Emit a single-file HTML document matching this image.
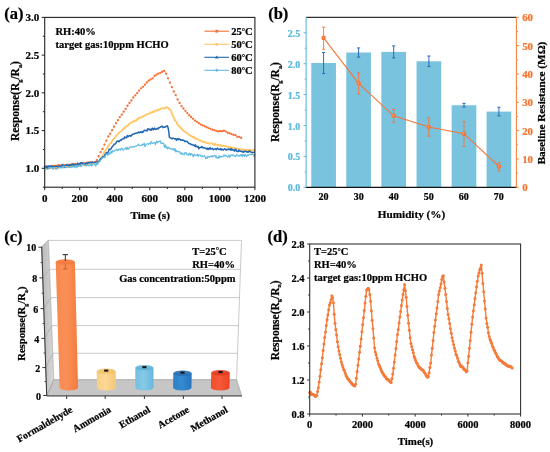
<!DOCTYPE html>
<html><head><meta charset="utf-8"><style>
html,body{margin:0;padding:0;background:#fff;}
svg{display:block;will-change:transform;}
svg text{font-family:"Liberation Serif",serif;font-weight:bold;}
</style></head><body>
<svg width="550" height="452" viewBox="0 0 550 452">
<rect width="550" height="452" fill="#fff"/>
<polyline points="44.7,166.61 46.63,166.12 48.55,167.03 50.48,166.39 52.41,166.01 54.33,165.98 56.26,165.95 58.19,165.14 60.11,165.45 62.04,165.67 63.97,164.94 65.9,165.35 67.82,164.54 69.75,164.76 71.68,164.42 73.6,163.97 75.53,164.02 77.46,164.16 79.38,164.02 81.31,163.17 83.24,163.07 85.16,163.22 87.09,162.63 89.02,162.51 90.94,162.28 92.87,162.73 94.8,162.08 96.72,160.22 98.65,156.24 100.58,152.19 102.5,149.01 104.43,144.59 106.36,140.7 108.29,136.41 110.21,133.77 112.14,130.19 114.07,126.67 115.99,123.04 117.92,120.2 119.85,117.06 121.77,114.71 123.7,111.68 125.63,108.89 127.55,105.75 129.48,102.96 131.41,100.51 133.33,97.51 135.26,95.29 137.19,93.1 139.11,90.53 141.04,88.34 142.97,86.81 144.9,84.64 146.82,82.52 148.75,80.71 150.68,79.39 152.6,78.28 154.53,76.01 156.46,74.7 158.38,73.68 160.31,72.8 162.24,71.74 164.16,70.96 166.09,73.72 168.02,78.28 169.94,82.69 171.87,87.1 173.8,91.38 175.72,95.12 177.65,99.51 179.58,102.9 181.51,106.21 183.43,108.5 185.36,110.86 187.29,113.11 189.21,115.25 191.14,116.99 193.07,118.81 194.99,120.68 196.92,121.86 198.85,123.13 200.77,124.54 202.7,125.37 204.63,126.18 206.55,127.13 208.48,128.06 210.41,128.86 212.33,129.64 214.26,130.17 216.19,130.82 218.12,131.42 220.04,131.14 221.97,131.16 223.9,130.74 225.82,131.61 227.75,132.76 229.68,133.42 231.6,134.03 233.53,134.91 235.46,135.13 237.38,136.86 239.31,136.93 241.24,137.91" fill="none" stroke="#F47037" stroke-width="0.4" stroke-linejoin="round" opacity="0.5"/>
<circle cx="44.7" cy="166.61" r="1.15" fill="#F47037"/>
<circle cx="46.63" cy="166.12" r="1.15" fill="#F47037"/>
<circle cx="48.55" cy="167.03" r="1.15" fill="#F47037"/>
<circle cx="50.48" cy="166.39" r="1.15" fill="#F47037"/>
<circle cx="52.41" cy="166.01" r="1.15" fill="#F47037"/>
<circle cx="54.33" cy="165.98" r="1.15" fill="#F47037"/>
<circle cx="56.26" cy="165.95" r="1.15" fill="#F47037"/>
<circle cx="58.19" cy="165.14" r="1.15" fill="#F47037"/>
<circle cx="60.11" cy="165.45" r="1.15" fill="#F47037"/>
<circle cx="62.04" cy="165.67" r="1.15" fill="#F47037"/>
<circle cx="63.97" cy="164.94" r="1.15" fill="#F47037"/>
<circle cx="65.9" cy="165.35" r="1.15" fill="#F47037"/>
<circle cx="67.82" cy="164.54" r="1.15" fill="#F47037"/>
<circle cx="69.75" cy="164.76" r="1.15" fill="#F47037"/>
<circle cx="71.68" cy="164.42" r="1.15" fill="#F47037"/>
<circle cx="73.6" cy="163.97" r="1.15" fill="#F47037"/>
<circle cx="75.53" cy="164.02" r="1.15" fill="#F47037"/>
<circle cx="77.46" cy="164.16" r="1.15" fill="#F47037"/>
<circle cx="79.38" cy="164.02" r="1.15" fill="#F47037"/>
<circle cx="81.31" cy="163.17" r="1.15" fill="#F47037"/>
<circle cx="83.24" cy="163.07" r="1.15" fill="#F47037"/>
<circle cx="85.16" cy="163.22" r="1.15" fill="#F47037"/>
<circle cx="87.09" cy="162.63" r="1.15" fill="#F47037"/>
<circle cx="89.02" cy="162.51" r="1.15" fill="#F47037"/>
<circle cx="90.94" cy="162.28" r="1.15" fill="#F47037"/>
<circle cx="92.87" cy="162.73" r="1.15" fill="#F47037"/>
<circle cx="94.8" cy="162.08" r="1.15" fill="#F47037"/>
<circle cx="96.72" cy="160.22" r="1.15" fill="#F47037"/>
<circle cx="98.65" cy="156.24" r="1.15" fill="#F47037"/>
<circle cx="100.58" cy="152.19" r="1.15" fill="#F47037"/>
<circle cx="102.5" cy="149.01" r="1.15" fill="#F47037"/>
<circle cx="104.43" cy="144.59" r="1.15" fill="#F47037"/>
<circle cx="106.36" cy="140.7" r="1.15" fill="#F47037"/>
<circle cx="108.29" cy="136.41" r="1.15" fill="#F47037"/>
<circle cx="110.21" cy="133.77" r="1.15" fill="#F47037"/>
<circle cx="112.14" cy="130.19" r="1.15" fill="#F47037"/>
<circle cx="114.07" cy="126.67" r="1.15" fill="#F47037"/>
<circle cx="115.99" cy="123.04" r="1.15" fill="#F47037"/>
<circle cx="117.92" cy="120.2" r="1.15" fill="#F47037"/>
<circle cx="119.85" cy="117.06" r="1.15" fill="#F47037"/>
<circle cx="121.77" cy="114.71" r="1.15" fill="#F47037"/>
<circle cx="123.7" cy="111.68" r="1.15" fill="#F47037"/>
<circle cx="125.63" cy="108.89" r="1.15" fill="#F47037"/>
<circle cx="127.55" cy="105.75" r="1.15" fill="#F47037"/>
<circle cx="129.48" cy="102.96" r="1.15" fill="#F47037"/>
<circle cx="131.41" cy="100.51" r="1.15" fill="#F47037"/>
<circle cx="133.33" cy="97.51" r="1.15" fill="#F47037"/>
<circle cx="135.26" cy="95.29" r="1.15" fill="#F47037"/>
<circle cx="137.19" cy="93.1" r="1.15" fill="#F47037"/>
<circle cx="139.11" cy="90.53" r="1.15" fill="#F47037"/>
<circle cx="141.04" cy="88.34" r="1.15" fill="#F47037"/>
<circle cx="142.97" cy="86.81" r="1.15" fill="#F47037"/>
<circle cx="144.9" cy="84.64" r="1.15" fill="#F47037"/>
<circle cx="146.82" cy="82.52" r="1.15" fill="#F47037"/>
<circle cx="148.75" cy="80.71" r="1.15" fill="#F47037"/>
<circle cx="150.68" cy="79.39" r="1.15" fill="#F47037"/>
<circle cx="152.6" cy="78.28" r="1.15" fill="#F47037"/>
<circle cx="154.53" cy="76.01" r="1.15" fill="#F47037"/>
<circle cx="156.46" cy="74.7" r="1.15" fill="#F47037"/>
<circle cx="158.38" cy="73.68" r="1.15" fill="#F47037"/>
<circle cx="160.31" cy="72.8" r="1.15" fill="#F47037"/>
<circle cx="162.24" cy="71.74" r="1.15" fill="#F47037"/>
<circle cx="164.16" cy="70.96" r="1.15" fill="#F47037"/>
<circle cx="166.09" cy="73.72" r="1.15" fill="#F47037"/>
<circle cx="168.02" cy="78.28" r="1.15" fill="#F47037"/>
<circle cx="169.94" cy="82.69" r="1.15" fill="#F47037"/>
<circle cx="171.87" cy="87.1" r="1.15" fill="#F47037"/>
<circle cx="173.8" cy="91.38" r="1.15" fill="#F47037"/>
<circle cx="175.72" cy="95.12" r="1.15" fill="#F47037"/>
<circle cx="177.65" cy="99.51" r="1.15" fill="#F47037"/>
<circle cx="179.58" cy="102.9" r="1.15" fill="#F47037"/>
<circle cx="181.51" cy="106.21" r="1.15" fill="#F47037"/>
<circle cx="183.43" cy="108.5" r="1.15" fill="#F47037"/>
<circle cx="185.36" cy="110.86" r="1.15" fill="#F47037"/>
<circle cx="187.29" cy="113.11" r="1.15" fill="#F47037"/>
<circle cx="189.21" cy="115.25" r="1.15" fill="#F47037"/>
<circle cx="191.14" cy="116.99" r="1.15" fill="#F47037"/>
<circle cx="193.07" cy="118.81" r="1.15" fill="#F47037"/>
<circle cx="194.99" cy="120.68" r="1.15" fill="#F47037"/>
<circle cx="196.92" cy="121.86" r="1.15" fill="#F47037"/>
<circle cx="198.85" cy="123.13" r="1.15" fill="#F47037"/>
<circle cx="200.77" cy="124.54" r="1.15" fill="#F47037"/>
<circle cx="202.7" cy="125.37" r="1.15" fill="#F47037"/>
<circle cx="204.63" cy="126.18" r="1.15" fill="#F47037"/>
<circle cx="206.55" cy="127.13" r="1.15" fill="#F47037"/>
<circle cx="208.48" cy="128.06" r="1.15" fill="#F47037"/>
<circle cx="210.41" cy="128.86" r="1.15" fill="#F47037"/>
<circle cx="212.33" cy="129.64" r="1.15" fill="#F47037"/>
<circle cx="214.26" cy="130.17" r="1.15" fill="#F47037"/>
<circle cx="216.19" cy="130.82" r="1.15" fill="#F47037"/>
<circle cx="218.12" cy="131.42" r="1.15" fill="#F47037"/>
<circle cx="220.04" cy="131.14" r="1.15" fill="#F47037"/>
<circle cx="221.97" cy="131.16" r="1.15" fill="#F47037"/>
<circle cx="223.9" cy="130.74" r="1.15" fill="#F47037"/>
<circle cx="225.82" cy="131.61" r="1.15" fill="#F47037"/>
<circle cx="227.75" cy="132.76" r="1.15" fill="#F47037"/>
<circle cx="229.68" cy="133.42" r="1.15" fill="#F47037"/>
<circle cx="231.6" cy="134.03" r="1.15" fill="#F47037"/>
<circle cx="233.53" cy="134.91" r="1.15" fill="#F47037"/>
<circle cx="235.46" cy="135.13" r="1.15" fill="#F47037"/>
<circle cx="237.38" cy="136.86" r="1.15" fill="#F47037"/>
<circle cx="239.31" cy="136.93" r="1.15" fill="#F47037"/>
<circle cx="241.24" cy="137.91" r="1.15" fill="#F47037"/>
<polyline points="44.7,168.51 45.4,167.98 46.1,168.77 46.8,168.49 47.5,167.59 48.2,168.94 48.9,168.47 49.6,168.2 50.31,168.15 51.01,168.01 51.71,168.15 52.41,167.9 53.11,167.94 53.81,167.66 54.51,168.4 55.21,168.04 55.91,167.71 56.61,167.96 57.31,167.91 58.01,167.34 58.71,167.67 59.41,167.22 60.11,167.12 60.82,167.2 61.52,167.08 62.22,167.2 62.92,167.53 63.62,167.06 64.32,166.85 65.02,167.09 65.72,166.9 66.42,166.58 67.12,167.01 67.82,166.49 68.52,166.06 69.22,166.73 69.92,166.46 70.62,166.49 71.33,165.91 72.03,166.2 72.73,165.94 73.43,166.34 74.13,166.06 74.83,165.97 75.53,166.43 76.23,165.38 76.93,165.46 77.63,166.18 78.33,165.34 79.03,165.53 79.73,165.27 80.43,165.22 81.13,165.7 81.84,165.23 82.54,164.64 83.24,165.18 83.94,165.23 84.64,165.25 85.34,165.13 86.04,164.58 86.74,164.09 87.44,164.39 88.14,164.37 88.84,163.69 89.54,164.44 90.24,164.4 90.94,163.96 91.64,163.87 92.35,164.27 93.05,164.23 93.75,163.71 94.45,163.64 95.15,164.03 95.85,163.62 96.55,163.64 97.25,163.26 97.95,162.68 98.65,161.91 99.35,161.24 100.05,159.61 100.75,158.3 101.45,157.62 102.15,156.05 102.86,155.32 103.56,153.87 104.26,152.46 104.96,151.02 105.66,150.38 106.36,149.08 107.06,147.79 107.76,147.1 108.46,145.52 109.16,144.84 109.86,143.65 110.56,143.22 111.26,142.59 111.96,141.1 112.66,140.15 113.37,139.52 114.07,138.2 114.77,137.67 115.47,136.89 116.17,135.68 116.87,135.42 117.57,134.46 118.27,133.64 118.97,132.76 119.67,132.44 120.37,131.67 121.07,131.34 121.77,130.43 122.47,129.4 123.17,129.49 123.88,127.94 124.58,128.23 125.28,127.41 125.98,126.74 126.68,125.86 127.38,125.92 128.08,125.55 128.78,124.27 129.48,123.79 130.18,123.42 130.88,122.39 131.58,122.7 132.28,122.26 132.98,121.64 133.68,121.39 134.39,120.57 135.09,121.03 135.79,120.35 136.49,120.85 137.19,119.15 137.89,119.08 138.59,118.27 139.29,117.48 139.99,117.8 140.69,117.55 141.39,117.3 142.09,117.08 142.79,116.69 143.49,115.98 144.19,115.83 144.9,115.5 145.6,115.25 146.3,114.59 147,114.39 147.7,114.26 148.4,113.69 149.1,113.61 149.8,113.59 150.5,112.49 151.2,112.51 151.9,112.66 152.6,111.77 153.3,111.71 154,112.01 154.7,110.77 155.41,110.88 156.11,110.43 156.81,110.37 157.51,110.19 158.21,110.34 158.91,109.3 159.61,109.3 160.31,109.12 161.01,108.65 161.71,108.52 162.41,108.2 163.11,108.38 163.81,108.13 164.51,108.63 165.21,107.97 165.92,107.49 166.62,107.15 167.32,107.52 168.02,108.1 168.72,108.23 169.42,109.46 170.12,109.79 170.82,110.15 171.52,112.37 172.22,113.74 172.92,116.04 173.62,117.49 174.32,119.3 175.02,120.46 175.72,121.21 176.43,121.87 177.13,123.85 177.83,124.87 178.53,125.42 179.23,126.59 179.93,126.82 180.63,127.5 181.33,128.46 182.03,128.91 182.73,130.24 183.43,130.25 184.13,131.51 184.83,131.78 185.53,132.26 186.23,132.74 186.94,132.88 187.64,133.64 188.34,134.31 189.04,134.55 189.74,134.76 190.44,135.76 191.14,136.13 191.84,136.21 192.54,136.85 193.24,137.66 193.94,136.86 194.64,137.29 195.34,138.9 196.04,138.65 196.74,138.86 197.45,139.03 198.15,139.47 198.85,140.09 199.55,140.67 200.25,140.63 200.95,140.57 201.65,141.42 202.35,141.62 203.05,141.53 203.75,142.32 204.45,142.03 205.15,142.3 205.85,142.25 206.55,142.81 207.25,143.08 207.96,143.14 208.66,143.26 209.36,143.63 210.06,143.54 210.76,143.44 211.46,143.42 212.16,143.38 212.86,144.25 213.56,144.26 214.26,145 214.96,143.79 215.66,144.7 216.36,144.61 217.06,144.56 217.76,145.24 218.47,144.81 219.17,145.07 219.87,145.73 220.57,145.24 221.27,145.12 221.97,146.19 222.67,145.53 223.37,145.87 224.07,145.94 224.77,146.1 225.47,145.99 226.17,146.6 226.87,146.42 227.57,146.96 228.27,146.77 228.98,147.38 229.68,147.32 230.38,146.92 231.08,147.45 231.78,147.79 232.48,148.24 233.18,148.25 233.88,148.07 234.58,147.96 235.28,148.23 235.98,148.32 236.68,148.6 237.38,148.3 238.08,148.94 238.78,149.1 239.49,148.78 240.19,149.15 240.89,149.36 241.59,149.57 242.29,149.59 242.99,149.44 243.69,149.63 244.39,150.16 245.09,149.72 245.79,149.86 246.49,150.27 247.19,149.79 247.89,150.16 248.59,150.24 249.29,149.95 250,149.85 250.7,150.51 251.4,150.23 252.1,150.68 252.8,149.78 253.5,150.68 254.2,150.23 254.9,150.84" fill="none" stroke="#FFC766" stroke-width="1.8" stroke-linejoin="round" />
<polyline points="44.7,166.76 45.4,167.66 46.1,167.71 46.8,166.19 47.5,168.37 48.2,166.96 48.9,165.72 49.6,167.68 50.31,166.65 51.01,165.86 51.71,167.01 52.41,166.54 53.11,166.28 53.81,167.31 54.51,166.75 55.21,166.46 55.91,166.08 56.61,166.54 57.31,166.58 58.01,167.01 58.71,166.55 59.41,165.74 60.11,166.16 60.82,166.67 61.52,166.6 62.22,164.43 62.92,165.29 63.62,165.53 64.32,167.42 65.02,165.42 65.72,165.44 66.42,164.66 67.12,165.36 67.82,165.59 68.52,165.18 69.22,166.61 69.92,164.75 70.62,165.12 71.33,165.66 72.03,164.35 72.73,163.96 73.43,165.81 74.13,165.28 74.83,164.61 75.53,164.58 76.23,164.84 76.93,165.1 77.63,163.14 78.33,163.71 79.03,164.96 79.73,164.96 80.43,163.03 81.13,163.37 81.84,162.78 82.54,163.3 83.24,164.22 83.94,163.45 84.64,164.82 85.34,163.88 86.04,163.37 86.74,162.93 87.44,163.59 88.14,163.14 88.84,162.7 89.54,162.66 90.24,162.41 90.94,162.58 91.64,162.81 92.35,162.04 93.05,162.4 93.75,162.84 94.45,162.63 95.15,162.16 95.85,162.13 96.55,161.88 97.25,161.89 97.95,161.4 98.65,161.21 99.35,161.51 100.05,159.73 100.75,158.58 101.45,158.18 102.15,157.79 102.86,156.64 103.56,156.72 104.26,156.51 104.96,154.56 105.66,154.39 106.36,152.62 107.06,152.95 107.76,153.11 108.46,151.4 109.16,149.11 109.86,149.59 110.56,149.48 111.26,148.41 111.96,146.92 112.66,146.23 113.37,145.72 114.07,144.22 114.77,143.99 115.47,143.72 116.17,142.64 116.87,141.3 117.57,141.27 118.27,140.9 118.97,141.83 119.67,140.92 120.37,140.04 121.07,140.32 121.77,139.15 122.47,139.09 123.17,138.56 123.88,138.89 124.58,136.88 125.28,137.33 125.98,137.86 126.68,137.33 127.38,135.47 128.08,136.9 128.78,135.87 129.48,135.52 130.18,135.82 130.88,136.24 131.58,135.13 132.28,134.74 132.98,133.99 133.68,133.91 134.39,134.08 135.09,133.29 135.79,133.2 136.49,133.11 137.19,132.91 137.89,132.81 138.59,131.96 139.29,132.72 139.99,132.29 140.69,131.73 141.39,132.44 142.09,131.64 142.79,132.41 143.49,131.43 144.19,130.5 144.9,130.32 145.6,130.52 146.3,130.45 147,130.99 147.7,128.85 148.4,129.47 149.1,128.94 149.8,129.96 150.5,129.37 151.2,130.23 151.9,128.54 152.6,128.32 153.3,129.9 154,128.66 154.7,128.12 155.41,129.44 156.11,129.35 156.81,128.77 157.51,128.38 158.21,128.72 158.91,127.73 159.61,127.47 160.31,127.1 161.01,126.92 161.71,126.29 162.41,126.35 163.11,127.7 163.81,127.07 164.51,127.26 165.21,127.13 165.92,126.38 166.62,126.19 167.32,125.75 168.02,127.51 168.72,131.07 169.42,137.38 170.12,137.74 170.82,138.06 171.52,138.17 172.22,138.84 172.92,138.15 173.62,138.36 174.32,138.63 175.02,138.98 175.72,138.68 176.43,140.22 177.13,139.17 177.83,138.55 178.53,139.61 179.23,138.84 179.93,139.12 180.63,140.3 181.33,139.87 182.03,140.17 182.73,139.96 183.43,140.12 184.13,140.77 184.83,141.51 185.53,141.34 186.23,141.55 186.94,141.32 187.64,141.9 188.34,142.89 189.04,143.65 189.74,143.44 190.44,144.04 191.14,144.64 191.84,144.41 192.54,145.02 193.24,145.04 193.94,145.16 194.64,146.1 195.34,144.83 196.04,146.8 196.74,146.2 197.45,146.93 198.15,146.47 198.85,148.72 199.55,147.88 200.25,147.41 200.95,147.34 201.65,146.43 202.35,147.79 203.05,147.35 203.75,147.8 204.45,147.83 205.15,148.23 205.85,148.73 206.55,148.37 207.25,149.38 207.96,148.06 208.66,149.43 209.36,148.72 210.06,147.64 210.76,149.1 211.46,149 212.16,148.36 212.86,149.09 213.56,149.64 214.26,149.04 214.96,148.88 215.66,148.83 216.36,149.75 217.06,148.25 217.76,148.33 218.47,149.35 219.17,149.23 219.87,149.67 220.57,148.59 221.27,149.89 221.97,149.09 222.67,149.81 223.37,149.96 224.07,149.14 224.77,148.79 225.47,149.63 226.17,150.06 226.87,149.18 227.57,149.73 228.27,149.54 228.98,148.83 229.68,149.1 230.38,150.12 231.08,148.45 231.78,149.86 232.48,149.41 233.18,150.35 233.88,150.08 234.58,151.21 235.28,149.17 235.98,149.52 236.68,151.17 237.38,151.45 238.08,151.61 238.78,150.02 239.49,151.1 240.19,150.96 240.89,151.2 241.59,151.18 242.29,151.86 242.99,151.29 243.69,152.27 244.39,151.5 245.09,151.33 245.79,151.29 246.49,151.77 247.19,152.23 247.89,151.64 248.59,152.09 249.29,150.91 250,151.45 250.7,152.03 251.4,152.31 252.1,152.5 252.8,152.7 253.5,152.4 254.2,152.07 254.9,151.99" fill="none" stroke="#2167B1" stroke-width="1.5" stroke-linejoin="round" />
<polyline points="44.7,168.89 45.4,168.2 46.1,168.76 46.8,168.79 47.5,169.25 48.2,168.6 48.9,167.45 49.6,167.97 50.31,167.41 51.01,168.02 51.71,167.85 52.41,167.97 53.11,169.46 53.81,167.31 54.51,167.55 55.21,167.51 55.91,169.28 56.61,169.27 57.31,168.51 58.01,168.11 58.71,167.42 59.41,167.66 60.11,167.14 60.82,168.05 61.52,167.21 62.22,167.09 62.92,167.92 63.62,165.89 64.32,166.81 65.02,166.23 65.72,167.68 66.42,167.73 67.12,167.35 67.82,167.11 68.52,166.44 69.22,166.71 69.92,167.24 70.62,167.61 71.33,167.18 72.03,165.66 72.73,167.26 73.43,166.31 74.13,166.07 74.83,167.58 75.53,166.23 76.23,165.1 76.93,167.78 77.63,166.29 78.33,166.03 79.03,166.54 79.73,165.37 80.43,165.76 81.13,166.84 81.84,164.86 82.54,164.91 83.24,164.6 83.94,164.11 84.64,164.92 85.34,165.04 86.04,166.14 86.74,164.47 87.44,165.41 88.14,165.19 88.84,165.79 89.54,165.46 90.24,165.02 90.94,163.43 91.64,166.1 92.35,165.55 93.05,164.06 93.75,162.98 94.45,163.61 95.15,165.59 95.85,166.02 96.55,163.56 97.25,164.38 97.95,164 98.65,161.55 99.35,160.75 100.05,160.88 100.75,160.15 101.45,159.35 102.15,157.73 102.86,157.89 103.56,157.32 104.26,156.65 104.96,157.75 105.66,154.74 106.36,154.36 107.06,154.06 107.76,155.49 108.46,153.82 109.16,152.33 109.86,154.27 110.56,152.65 111.26,151.39 111.96,153.05 112.66,150.36 113.37,150.98 114.07,151.29 114.77,150.63 115.47,150.1 116.17,150.27 116.87,149.16 117.57,150.51 118.27,150.19 118.97,148.87 119.67,149.59 120.37,150.23 121.07,148.6 121.77,148.06 122.47,149.53 123.17,150.2 123.88,149.05 124.58,148.95 125.28,148.96 125.98,147.43 126.68,149.34 127.38,147.33 128.08,149.31 128.78,148.75 129.48,147.4 130.18,146.82 130.88,146.87 131.58,147.12 132.28,147.12 132.98,146.94 133.68,146.42 134.39,146.87 135.09,146.32 135.79,145.9 136.49,146.2 137.19,145.4 137.89,145.39 138.59,144.02 139.29,145.24 139.99,145.75 140.69,145.58 141.39,145.17 142.09,144.27 142.79,145.19 143.49,144.48 144.19,143.15 144.9,146.68 145.6,145.37 146.3,144.11 147,143.87 147.7,143.88 148.4,144.32 149.1,143.29 149.8,143.48 150.5,144.02 151.2,141.38 151.9,142.92 152.6,143.49 153.3,142.93 154,142.86 154.7,142.54 155.41,144.57 156.11,142.52 156.81,141.1 157.51,142.91 158.21,142.05 158.91,141.27 159.61,141.41 160.31,140.94 161.01,143.65 161.71,142.88 162.41,143.51 163.11,143.35 163.81,143.6 164.51,147.37 165.21,144.88 165.92,147.63 166.62,146.5 167.32,148.94 168.02,147.83 168.72,147.26 169.42,148.64 170.12,148.63 170.82,148.4 171.52,149.22 172.22,149.68 172.92,148.61 173.62,149.28 174.32,150.67 175.02,148.41 175.72,151.9 176.43,150.45 177.13,151.68 177.83,151.61 178.53,151.4 179.23,152.06 179.93,151.97 180.63,154.02 181.33,154.27 182.03,152.73 182.73,154.16 183.43,154.32 184.13,154.81 184.83,152.66 185.53,153.2 186.23,152.72 186.94,154.84 187.64,154.17 188.34,155.24 189.04,153.77 189.74,153.21 190.44,155.38 191.14,153.46 191.84,154.05 192.54,155.14 193.24,156.73 193.94,154.03 194.64,155.37 195.34,155.89 196.04,155.16 196.74,155.25 197.45,154.45 198.15,156.64 198.85,154.95 199.55,154.75 200.25,154.88 200.95,156.34 201.65,156.9 202.35,155.54 203.05,156.39 203.75,156.48 204.45,155.5 205.15,157 205.85,158.74 206.55,157.15 207.25,158.37 207.96,156.15 208.66,156.57 209.36,157.34 210.06,156.84 210.76,156.14 211.46,156.77 212.16,155.73 212.86,156.88 213.56,155.97 214.26,155.59 214.96,155.46 215.66,157.31 216.36,155.98 217.06,158.23 217.76,157.53 218.47,158.21 219.17,155.65 219.87,157.52 220.57,156.46 221.27,156.57 221.97,156.39 222.67,156.82 223.37,156.09 224.07,154.75 224.77,156.16 225.47,155.71 226.17,155.28 226.87,156.23 227.57,157.07 228.27,156.44 228.98,155.05 229.68,157.24 230.38,156.31 231.08,154.91 231.78,155.02 232.48,155.6 233.18,154.87 233.88,155.34 234.58,156.38 235.28,156.64 235.98,155.8 236.68,154.44 237.38,155.61 238.08,155.82 238.78,155.64 239.49,156.21 240.19,154.97 240.89,155.78 241.59,154.43 242.29,156.69 242.99,154.48 243.69,155.3 244.39,156.39 245.09,154.19 245.79,155.04 246.49,156.68 247.19,155.57 247.89,154.62 248.59,155.26 249.29,154.24 250,154.29 250.7,154.37 251.4,154.67 252.1,153.85 252.8,154.42 253.5,154.61 254.2,156.73 254.9,154.28" fill="none" stroke="#63BBE3" stroke-width="1.2" stroke-linejoin="round" />
<rect x="44.7" y="17.4" width="210.2" height="169.8" fill="none" stroke="#222" stroke-width="1.1"/>
<line x1="44.7" y1="187.2" x2="44.7" y2="190.2" stroke="#222" stroke-width="1" />
<text x="44.7" y="201.6" font-size="11" text-anchor="middle" fill="#000" stroke="#000" stroke-width="0.22" >0</text>
<line x1="62.22" y1="187.2" x2="62.22" y2="189" stroke="#222" stroke-width="1" />
<line x1="79.73" y1="187.2" x2="79.73" y2="190.2" stroke="#222" stroke-width="1" />
<text x="79.73" y="201.6" font-size="11" text-anchor="middle" fill="#000" stroke="#000" stroke-width="0.22" >200</text>
<line x1="97.25" y1="187.2" x2="97.25" y2="189" stroke="#222" stroke-width="1" />
<line x1="114.77" y1="187.2" x2="114.77" y2="190.2" stroke="#222" stroke-width="1" />
<text x="114.77" y="201.6" font-size="11" text-anchor="middle" fill="#000" stroke="#000" stroke-width="0.22" >400</text>
<line x1="132.28" y1="187.2" x2="132.28" y2="189" stroke="#222" stroke-width="1" />
<line x1="149.8" y1="187.2" x2="149.8" y2="190.2" stroke="#222" stroke-width="1" />
<text x="149.8" y="201.6" font-size="11" text-anchor="middle" fill="#000" stroke="#000" stroke-width="0.22" >600</text>
<line x1="167.32" y1="187.2" x2="167.32" y2="189" stroke="#222" stroke-width="1" />
<line x1="184.83" y1="187.2" x2="184.83" y2="190.2" stroke="#222" stroke-width="1" />
<text x="184.83" y="201.6" font-size="11" text-anchor="middle" fill="#000" stroke="#000" stroke-width="0.22" >800</text>
<line x1="202.35" y1="187.2" x2="202.35" y2="189" stroke="#222" stroke-width="1" />
<line x1="219.87" y1="187.2" x2="219.87" y2="190.2" stroke="#222" stroke-width="1" />
<text x="219.87" y="201.6" font-size="11" text-anchor="middle" fill="#000" stroke="#000" stroke-width="0.22" >1000</text>
<line x1="237.38" y1="187.2" x2="237.38" y2="189" stroke="#222" stroke-width="1" />
<line x1="254.9" y1="187.2" x2="254.9" y2="190.2" stroke="#222" stroke-width="1" />
<text x="254.9" y="201.6" font-size="11" text-anchor="middle" fill="#000" stroke="#000" stroke-width="0.22" >1200</text>
<line x1="42.9" y1="187.16" x2="44.7" y2="187.16" stroke="#222" stroke-width="1" />
<line x1="41.7" y1="168.3" x2="44.7" y2="168.3" stroke="#222" stroke-width="1" />
<text x="39.3" y="172.1" font-size="11" text-anchor="end" fill="#000" stroke="#000" stroke-width="0.22" >1.0</text>
<line x1="42.9" y1="149.44" x2="44.7" y2="149.44" stroke="#222" stroke-width="1" />
<line x1="41.7" y1="130.58" x2="44.7" y2="130.58" stroke="#222" stroke-width="1" />
<text x="39.3" y="134.38" font-size="11" text-anchor="end" fill="#000" stroke="#000" stroke-width="0.22" >1.5</text>
<line x1="42.9" y1="111.71" x2="44.7" y2="111.71" stroke="#222" stroke-width="1" />
<line x1="41.7" y1="92.85" x2="44.7" y2="92.85" stroke="#222" stroke-width="1" />
<text x="39.3" y="96.65" font-size="11" text-anchor="end" fill="#000" stroke="#000" stroke-width="0.22" >2.0</text>
<line x1="42.9" y1="73.99" x2="44.7" y2="73.99" stroke="#222" stroke-width="1" />
<line x1="41.7" y1="55.12" x2="44.7" y2="55.12" stroke="#222" stroke-width="1" />
<text x="39.3" y="58.92" font-size="11" text-anchor="end" fill="#000" stroke="#000" stroke-width="0.22" >2.5</text>
<line x1="42.9" y1="36.26" x2="44.7" y2="36.26" stroke="#222" stroke-width="1" />
<line x1="41.7" y1="17.4" x2="44.7" y2="17.4" stroke="#222" stroke-width="1" />
<text x="39.3" y="21.2" font-size="11" text-anchor="end" fill="#000" stroke="#000" stroke-width="0.22" >3.0</text>
<text x="150.2" y="219.3" font-size="11.3" text-anchor="middle" fill="#000" stroke="#000" stroke-width="0.22" >Time (s)</text>
<text transform="translate(19.2,101) rotate(-90)" font-size="11.5" text-anchor="middle" stroke="#000" stroke-width="0.22">Response(R<tspan font-size="6.44" dy="2.6">g</tspan><tspan dy="-2.6">/R</tspan><tspan font-size="6.44" dy="2.6">a</tspan><tspan dy="-2.6">)</tspan></text>
<text x="4.2" y="19.2" font-size="16.5" text-anchor="start" fill="#000" stroke="#000" stroke-width="0.22" >(a)</text>
<text x="55.5" y="35.3" font-size="10.5" text-anchor="start" fill="#000" stroke="#000" stroke-width="0.22" >RH:40%</text>
<text x="55.5" y="48.2" font-size="10.5" text-anchor="start" fill="#000" stroke="#000" stroke-width="0.22" >target gas:10ppm HCHO</text>
<line x1="204.4" y1="31.2" x2="229" y2="31.2" stroke="#F47037" stroke-width="1.1" />
<rect x="215.4" y="29.8" width="2.8" height="2.8" fill="#F47037"/>
<text x="231.3" y="34.9" font-size="10.5" text-anchor="start" fill="#000" stroke="#000" stroke-width="0.22" >25<tspan font-size="0.78em" dy="-1.3">°</tspan><tspan dy="1.3">C</tspan></text>
<line x1="204.4" y1="44.3" x2="229" y2="44.3" stroke="#FFC766" stroke-width="1.1" />
<circle cx="216.8" cy="44.3" r="1.5" fill="#FFC766"/>
<text x="231.3" y="48" font-size="10.5" text-anchor="start" fill="#000" stroke="#000" stroke-width="0.22" >50<tspan font-size="0.78em" dy="-1.3">°</tspan><tspan dy="1.3">C</tspan></text>
<line x1="204.4" y1="57.3" x2="229" y2="57.3" stroke="#2167B1" stroke-width="1.1" />
<path d="M216.8,55.4 L218.7,58.6 L214.9,58.6 Z" fill="#2167B1"/>
<text x="231.3" y="61" font-size="10.5" text-anchor="start" fill="#000" stroke="#000" stroke-width="0.22" >60<tspan font-size="0.78em" dy="-1.3">°</tspan><tspan dy="1.3">C</tspan></text>
<line x1="204.4" y1="70.3" x2="229" y2="70.3" stroke="#63BBE3" stroke-width="1.1" />
<path d="M216.8,68.5 L218.6,70.3 L216.8,72.1 L215,70.3 Z" fill="#63BBE3"/>
<text x="231.3" y="74" font-size="10.5" text-anchor="start" fill="#000" stroke="#000" stroke-width="0.22" >80<tspan font-size="0.78em" dy="-1.3">°</tspan><tspan dy="1.3">C</tspan></text>
<rect x="311.25" y="63.02" width="24.7" height="124.28" fill="#79C3DE"/>
<rect x="346.25" y="52.51" width="24.7" height="134.79" fill="#79C3DE"/>
<rect x="381.35" y="51.9" width="24.7" height="135.4" fill="#79C3DE"/>
<rect x="416.55" y="61.29" width="24.7" height="126.01" fill="#79C3DE"/>
<rect x="451.65" y="105.23" width="24.7" height="82.07" fill="#79C3DE"/>
<rect x="486.55" y="111.6" width="24.7" height="75.7" fill="#79C3DE"/>
<line x1="323.6" y1="52.51" x2="323.6" y2="73.53" stroke="#2B6DB0" stroke-width="1" />
<line x1="322" y1="52.51" x2="325.2" y2="52.51" stroke="#2B6DB0" stroke-width="1" />
<line x1="322" y1="73.53" x2="325.2" y2="73.53" stroke="#2B6DB0" stroke-width="1" />
<line x1="358.6" y1="47.94" x2="358.6" y2="57.09" stroke="#2B6DB0" stroke-width="1" />
<line x1="357" y1="47.94" x2="360.2" y2="47.94" stroke="#2B6DB0" stroke-width="1" />
<line x1="357" y1="57.09" x2="360.2" y2="57.09" stroke="#2B6DB0" stroke-width="1" />
<line x1="393.7" y1="45.9" x2="393.7" y2="57.89" stroke="#2B6DB0" stroke-width="1" />
<line x1="392.1" y1="45.9" x2="395.3" y2="45.9" stroke="#2B6DB0" stroke-width="1" />
<line x1="392.1" y1="57.89" x2="395.3" y2="57.89" stroke="#2B6DB0" stroke-width="1" />
<line x1="428.9" y1="56.04" x2="428.9" y2="66.54" stroke="#2B6DB0" stroke-width="1" />
<line x1="427.3" y1="56.04" x2="430.5" y2="56.04" stroke="#2B6DB0" stroke-width="1" />
<line x1="427.3" y1="66.54" x2="430.5" y2="66.54" stroke="#2B6DB0" stroke-width="1" />
<line x1="464" y1="103.38" x2="464" y2="107.08" stroke="#2B6DB0" stroke-width="1" />
<line x1="462.4" y1="103.38" x2="465.6" y2="103.38" stroke="#2B6DB0" stroke-width="1" />
<line x1="462.4" y1="107.08" x2="465.6" y2="107.08" stroke="#2B6DB0" stroke-width="1" />
<line x1="498.9" y1="107.27" x2="498.9" y2="115.92" stroke="#2B6DB0" stroke-width="1" />
<line x1="497.3" y1="107.27" x2="500.5" y2="107.27" stroke="#2B6DB0" stroke-width="1" />
<line x1="497.3" y1="115.92" x2="500.5" y2="115.92" stroke="#2B6DB0" stroke-width="1" />
<polyline points="323.6,37.9 358.6,83.3 393.7,115.8 428.8,127 464,133.7 499,166.5" fill="none" stroke="#F3763A" stroke-width="1.1"/>
<line x1="323.6" y1="27.2" x2="323.6" y2="49.3" stroke="#F3763A" stroke-width="0.9" />
<line x1="322" y1="27.2" x2="325.2" y2="27.2" stroke="#F3763A" stroke-width="0.9" />
<line x1="322" y1="49.3" x2="325.2" y2="49.3" stroke="#F3763A" stroke-width="0.9" />
<circle cx="323.6" cy="37.9" r="2.3" fill="#F3763A"/>
<circle cx="323.2" cy="37.5" r="0.75" fill="#F9AE85"/>
<line x1="358.6" y1="72.8" x2="358.6" y2="94.2" stroke="#F3763A" stroke-width="0.9" />
<line x1="357" y1="72.8" x2="360.2" y2="72.8" stroke="#F3763A" stroke-width="0.9" />
<line x1="357" y1="94.2" x2="360.2" y2="94.2" stroke="#F3763A" stroke-width="0.9" />
<circle cx="358.6" cy="83.3" r="2.3" fill="#F3763A"/>
<circle cx="358.2" cy="82.9" r="0.75" fill="#F9AE85"/>
<line x1="393.7" y1="109.6" x2="393.7" y2="122.4" stroke="#F3763A" stroke-width="0.9" />
<line x1="392.1" y1="109.6" x2="395.3" y2="109.6" stroke="#F3763A" stroke-width="0.9" />
<line x1="392.1" y1="122.4" x2="395.3" y2="122.4" stroke="#F3763A" stroke-width="0.9" />
<circle cx="393.7" cy="115.8" r="2.3" fill="#F3763A"/>
<circle cx="393.3" cy="115.4" r="0.75" fill="#F9AE85"/>
<line x1="428.8" y1="117.8" x2="428.8" y2="136.3" stroke="#F3763A" stroke-width="0.9" />
<line x1="427.2" y1="117.8" x2="430.4" y2="117.8" stroke="#F3763A" stroke-width="0.9" />
<line x1="427.2" y1="136.3" x2="430.4" y2="136.3" stroke="#F3763A" stroke-width="0.9" />
<circle cx="428.8" cy="127" r="2.3" fill="#F3763A"/>
<circle cx="428.4" cy="126.6" r="0.75" fill="#F9AE85"/>
<line x1="464" y1="121.6" x2="464" y2="146.4" stroke="#F3763A" stroke-width="0.9" />
<line x1="462.4" y1="121.6" x2="465.6" y2="121.6" stroke="#F3763A" stroke-width="0.9" />
<line x1="462.4" y1="146.4" x2="465.6" y2="146.4" stroke="#F3763A" stroke-width="0.9" />
<circle cx="464" cy="133.7" r="2.3" fill="#F3763A"/>
<circle cx="463.6" cy="133.3" r="0.75" fill="#F9AE85"/>
<line x1="499" y1="162.5" x2="499" y2="170.9" stroke="#F3763A" stroke-width="0.9" />
<line x1="497.4" y1="162.5" x2="500.6" y2="162.5" stroke="#F3763A" stroke-width="0.9" />
<line x1="497.4" y1="170.9" x2="500.6" y2="170.9" stroke="#F3763A" stroke-width="0.9" />
<circle cx="499" cy="166.5" r="2.3" fill="#F3763A"/>
<circle cx="498.6" cy="166.1" r="0.75" fill="#F9AE85"/>
<line x1="306.1" y1="17.4" x2="516.4" y2="17.4" stroke="#333" stroke-width="1.1" />
<line x1="305.6" y1="187.3" x2="516.9" y2="187.3" stroke="#111" stroke-width="1.3" />
<line x1="306.1" y1="17.4" x2="306.1" y2="187.3" stroke="#5BB8DD" stroke-width="1.1" />
<line x1="516.4" y1="17.4" x2="516.4" y2="187.8" stroke="#F5843F" stroke-width="1.1" />
<line x1="303.6" y1="187.3" x2="306.1" y2="187.3" stroke="#5BB8DD" stroke-width="1" />
<text x="300.3" y="191.3" font-size="10" text-anchor="end" fill="#5BB8DD" stroke="#5BB8DD" stroke-width="0.22" >0.0</text>
<line x1="303.6" y1="156.4" x2="306.1" y2="156.4" stroke="#5BB8DD" stroke-width="1" />
<text x="300.3" y="160.4" font-size="10" text-anchor="end" fill="#5BB8DD" stroke="#5BB8DD" stroke-width="0.22" >0.5</text>
<line x1="303.6" y1="125.5" x2="306.1" y2="125.5" stroke="#5BB8DD" stroke-width="1" />
<text x="300.3" y="129.5" font-size="10" text-anchor="end" fill="#5BB8DD" stroke="#5BB8DD" stroke-width="0.22" >1.0</text>
<line x1="303.6" y1="94.6" x2="306.1" y2="94.6" stroke="#5BB8DD" stroke-width="1" />
<text x="300.3" y="98.6" font-size="10" text-anchor="end" fill="#5BB8DD" stroke="#5BB8DD" stroke-width="0.22" >1.5</text>
<line x1="303.6" y1="63.7" x2="306.1" y2="63.7" stroke="#5BB8DD" stroke-width="1" />
<text x="300.3" y="67.7" font-size="10" text-anchor="end" fill="#5BB8DD" stroke="#5BB8DD" stroke-width="0.22" >2.0</text>
<line x1="303.6" y1="32.8" x2="306.1" y2="32.8" stroke="#5BB8DD" stroke-width="1" />
<text x="300.3" y="36.8" font-size="10" text-anchor="end" fill="#5BB8DD" stroke="#5BB8DD" stroke-width="0.22" >2.5</text>
<line x1="304.6" y1="171.85" x2="306.1" y2="171.85" stroke="#5BB8DD" stroke-width="1" />
<line x1="304.6" y1="140.95" x2="306.1" y2="140.95" stroke="#5BB8DD" stroke-width="1" />
<line x1="304.6" y1="110.05" x2="306.1" y2="110.05" stroke="#5BB8DD" stroke-width="1" />
<line x1="304.6" y1="79.15" x2="306.1" y2="79.15" stroke="#5BB8DD" stroke-width="1" />
<line x1="304.6" y1="48.25" x2="306.1" y2="48.25" stroke="#5BB8DD" stroke-width="1" />
<line x1="516.4" y1="187.3" x2="518.9" y2="187.3" stroke="#F5843F" stroke-width="1" />
<text x="522.2" y="191.2" font-size="10.8" text-anchor="start" fill="#F7742E" stroke="#F7742E" stroke-width="0.22" >0</text>
<line x1="516.4" y1="173.13" x2="517.9" y2="173.13" stroke="#F5843F" stroke-width="1" />
<line x1="516.4" y1="158.97" x2="518.9" y2="158.97" stroke="#F5843F" stroke-width="1" />
<text x="522.2" y="162.87" font-size="10.8" text-anchor="start" fill="#F7742E" stroke="#F7742E" stroke-width="0.22" >10</text>
<line x1="516.4" y1="144.8" x2="517.9" y2="144.8" stroke="#F5843F" stroke-width="1" />
<line x1="516.4" y1="130.63" x2="518.9" y2="130.63" stroke="#F5843F" stroke-width="1" />
<text x="522.2" y="134.53" font-size="10.8" text-anchor="start" fill="#F7742E" stroke="#F7742E" stroke-width="0.22" >20</text>
<line x1="516.4" y1="116.47" x2="517.9" y2="116.47" stroke="#F5843F" stroke-width="1" />
<line x1="516.4" y1="102.3" x2="518.9" y2="102.3" stroke="#F5843F" stroke-width="1" />
<text x="522.2" y="106.2" font-size="10.8" text-anchor="start" fill="#F7742E" stroke="#F7742E" stroke-width="0.22" >30</text>
<line x1="516.4" y1="88.13" x2="517.9" y2="88.13" stroke="#F5843F" stroke-width="1" />
<line x1="516.4" y1="73.97" x2="518.9" y2="73.97" stroke="#F5843F" stroke-width="1" />
<text x="522.2" y="77.87" font-size="10.8" text-anchor="start" fill="#F7742E" stroke="#F7742E" stroke-width="0.22" >40</text>
<line x1="516.4" y1="59.8" x2="517.9" y2="59.8" stroke="#F5843F" stroke-width="1" />
<line x1="516.4" y1="45.63" x2="518.9" y2="45.63" stroke="#F5843F" stroke-width="1" />
<text x="522.2" y="49.53" font-size="10.8" text-anchor="start" fill="#F7742E" stroke="#F7742E" stroke-width="0.22" >50</text>
<line x1="516.4" y1="31.47" x2="517.9" y2="31.47" stroke="#F5843F" stroke-width="1" />
<line x1="516.4" y1="17.3" x2="518.9" y2="17.3" stroke="#F5843F" stroke-width="1" />
<text x="522.2" y="21.2" font-size="10.8" text-anchor="start" fill="#F7742E" stroke="#F7742E" stroke-width="0.22" >60</text>
<text x="323.6" y="199.7" font-size="10" text-anchor="middle" fill="#000" stroke="#000" stroke-width="0.22" >20</text>
<text x="358.65" y="199.7" font-size="10" text-anchor="middle" fill="#000" stroke="#000" stroke-width="0.22" >30</text>
<text x="393.7" y="199.7" font-size="10" text-anchor="middle" fill="#000" stroke="#000" stroke-width="0.22" >40</text>
<text x="428.75" y="199.7" font-size="10" text-anchor="middle" fill="#000" stroke="#000" stroke-width="0.22" >50</text>
<text x="463.8" y="199.7" font-size="10" text-anchor="middle" fill="#000" stroke="#000" stroke-width="0.22" >60</text>
<text x="498.85" y="199.7" font-size="10" text-anchor="middle" fill="#000" stroke="#000" stroke-width="0.22" >70</text>
<text x="411.5" y="217.5" font-size="11.2" text-anchor="middle" fill="#000" stroke="#000" stroke-width="0.22" >Humidity (%)</text>
<text transform="translate(279.2,102) rotate(-90)" font-size="11.5" text-anchor="middle" stroke="#000" stroke-width="0.22">Response(R<tspan font-size="6.44" dy="2.6">g</tspan><tspan dy="-2.6">/R</tspan><tspan font-size="6.44" dy="2.6">a</tspan><tspan dy="-2.6">)</tspan></text>
<text transform="translate(544.8,103) rotate(-90)" font-size="11.2" text-anchor="middle" stroke="#000" stroke-width="0.22">Baseline Resistance (MΩ)</text>
<text x="268.2" y="19.2" font-size="16.5" text-anchor="start" fill="#000" stroke="#000" stroke-width="0.22" >(b)</text>
<defs><linearGradient id="lw" x1="0" y1="0" x2="1" y2="0"><stop offset="0" stop-color="#B9B9B9"/><stop offset="1" stop-color="#D9D9D9"/></linearGradient><linearGradient id="c1" x1="0" y1="0" x2="1" y2="0"><stop offset="0" stop-color="#F8874C"/><stop offset="0.45" stop-color="#FA9158"/><stop offset="1" stop-color="#F37C3E"/></linearGradient><linearGradient id="c2" x1="0" y1="0" x2="1" y2="0"><stop offset="0" stop-color="#F8CE84"/><stop offset="0.45" stop-color="#FBD896"/><stop offset="1" stop-color="#F4C676"/></linearGradient><linearGradient id="c3" x1="0" y1="0" x2="1" y2="0"><stop offset="0" stop-color="#74C0E1"/><stop offset="0.45" stop-color="#86C9E7"/><stop offset="1" stop-color="#68B7DB"/></linearGradient><linearGradient id="c4" x1="0" y1="0" x2="1" y2="0"><stop offset="0" stop-color="#2C80C5"/><stop offset="0.45" stop-color="#348AD0"/><stop offset="1" stop-color="#2676BD"/></linearGradient><linearGradient id="c5" x1="0" y1="0" x2="1" y2="0"><stop offset="0" stop-color="#F24C2A"/><stop offset="0.45" stop-color="#F65A38"/><stop offset="1" stop-color="#EC4324"/></linearGradient></defs>
<polygon points="41.7,246.8 48.5,240 53.8,379.8 46.7,396" fill="url(#lw)" stroke="#999" stroke-width="0.6"/>
<polygon points="48.5,240.4 241.5,240.4 236.6,379.8 53.8,379.8" fill="#fff" stroke="#BDBDBD" stroke-width="0.8"/>
<polygon points="46.7,396 53.8,379.8 236.6,379.8 241.9,396" fill="#C6C6C6" stroke="#999" stroke-width="0.6"/>
<line x1="49.61" y1="269.3" x2="240.47" y2="269.3" stroke="#BDBDBD" stroke-width="0.8" />
<line x1="42.72" y1="277.9" x2="49.61" y2="269.3" stroke="#A8A8A8" stroke-width="0.7" />
<line x1="50.69" y1="297.6" x2="239.48" y2="297.6" stroke="#BDBDBD" stroke-width="0.8" />
<line x1="43.74" y1="308.6" x2="50.69" y2="297.6" stroke="#A8A8A8" stroke-width="0.7" />
<line x1="51.76" y1="325.6" x2="238.5" y2="325.6" stroke="#BDBDBD" stroke-width="0.8" />
<line x1="44.72" y1="338.4" x2="51.76" y2="325.6" stroke="#A8A8A8" stroke-width="0.7" />
<line x1="52.81" y1="353.3" x2="237.53" y2="353.3" stroke="#BDBDBD" stroke-width="0.8" />
<line x1="45.68" y1="367.6" x2="52.81" y2="353.3" stroke="#A8A8A8" stroke-width="0.7" />
<line x1="41.7" y1="246.8" x2="46.7" y2="396" stroke="#333" stroke-width="1" />
<line x1="46.7" y1="395.9" x2="241.9" y2="395.9" stroke="#444" stroke-width="1" />
<line x1="38.41" y1="247.2" x2="41.71" y2="247.2" stroke="#333" stroke-width="1" />
<text x="36.21" y="251.4" font-size="10" text-anchor="end" fill="#000" stroke="#000" stroke-width="0.22" >10</text>
<line x1="39.42" y1="277.9" x2="42.72" y2="277.9" stroke="#333" stroke-width="1" />
<text x="37.22" y="282.1" font-size="10" text-anchor="end" fill="#000" stroke="#000" stroke-width="0.22" >8</text>
<line x1="40.62" y1="262.55" x2="42.22" y2="262.55" stroke="#333" stroke-width="0.9" />
<line x1="40.44" y1="308.6" x2="43.74" y2="308.6" stroke="#333" stroke-width="1" />
<text x="38.24" y="312.8" font-size="10" text-anchor="end" fill="#000" stroke="#000" stroke-width="0.22" >6</text>
<line x1="41.63" y1="293.25" x2="43.23" y2="293.25" stroke="#333" stroke-width="0.9" />
<line x1="41.42" y1="338.4" x2="44.72" y2="338.4" stroke="#333" stroke-width="1" />
<text x="39.22" y="342.6" font-size="10" text-anchor="end" fill="#000" stroke="#000" stroke-width="0.22" >4</text>
<line x1="42.63" y1="323.5" x2="44.23" y2="323.5" stroke="#333" stroke-width="0.9" />
<line x1="42.38" y1="367.6" x2="45.68" y2="367.6" stroke="#333" stroke-width="1" />
<text x="40.18" y="371.8" font-size="10" text-anchor="end" fill="#000" stroke="#000" stroke-width="0.22" >2</text>
<line x1="43.6" y1="353" x2="45.2" y2="353" stroke="#333" stroke-width="0.9" />
<line x1="43.3" y1="395.5" x2="46.6" y2="395.5" stroke="#333" stroke-width="1" />
<text x="41.1" y="399.7" font-size="10" text-anchor="end" fill="#000" stroke="#000" stroke-width="0.22" >0</text>
<line x1="44.54" y1="381.55" x2="46.14" y2="381.55" stroke="#333" stroke-width="0.9" />
<line x1="66.7" y1="395.6" x2="66.7" y2="399" stroke="#333" stroke-width="1" />
<line x1="105.2" y1="395.6" x2="105.2" y2="399" stroke="#333" stroke-width="1" />
<line x1="144.4" y1="395.6" x2="144.4" y2="399" stroke="#333" stroke-width="1" />
<line x1="183.4" y1="395.6" x2="183.4" y2="399" stroke="#333" stroke-width="1" />
<line x1="222" y1="395.6" x2="222" y2="399" stroke="#333" stroke-width="1" />
<path d="M55.7,262 L59.7,387.8 A9.2,2.8 0 0 0 78.1,387.8 L74.9,262 Z" fill="url(#c1)"/>
<line x1="65.3" y1="262.5" x2="65.3" y2="269" stroke="#C25A2A" stroke-width="0.9" />
<line x1="63.1" y1="269" x2="67.5" y2="269" stroke="#C25A2A" stroke-width="0.9" />
<ellipse cx="65.3" cy="262" rx="9.6" ry="2.8" fill="#F5773C" opacity="0.9"/>
<path d="M96.7,371.2 L97,387.8 A9.5,2.8 0 0 0 116,387.8 L115.7,371.2 Z" fill="url(#c2)"/>
<ellipse cx="106.2" cy="371.2" rx="9.5" ry="2.8" fill="#F3C36A" opacity="0.9"/>
<path d="M135.3,367.8 L135.3,387.8 A9.1,2.8 0 0 0 153.5,387.8 L153.5,367.8 Z" fill="url(#c3)"/>
<ellipse cx="144.4" cy="367.8" rx="9.1" ry="2.8" fill="#62B4D9" opacity="0.9"/>
<path d="M173.3,373.2 L173.1,387.8 A9.2,2.8 0 0 0 191.5,387.8 L191.7,373.2 Z" fill="url(#c4)"/>
<ellipse cx="182.5" cy="373.2" rx="9.2" ry="2.8" fill="#2970B2" opacity="0.9"/>
<path d="M211.2,372.7 L210.9,387.8 A9.3,2.8 0 0 0 229.5,387.8 L229.8,372.7 Z" fill="url(#c5)"/>
<ellipse cx="220.5" cy="372.7" rx="9.3" ry="2.8" fill="#E23B1E" opacity="0.9"/>
<line x1="65.3" y1="254.7" x2="65.3" y2="261" stroke="#222" stroke-width="0.9" />
<line x1="62.6" y1="254.7" x2="68" y2="254.7" stroke="#222" stroke-width="1" />
<rect x="104.1" y="369.6" width="4.2" height="2" fill="#111"/>
<rect x="142.3" y="366.2" width="4.2" height="2" fill="#111"/>
<rect x="180.4" y="371.6" width="4.2" height="2" fill="#111"/>
<rect x="218.4" y="371.1" width="4.2" height="2" fill="#111"/>
<text x="4.2" y="241.6" font-size="16.5" text-anchor="start" fill="#000" stroke="#000" stroke-width="0.22" >(c)</text>
<text x="192.2" y="254.5" font-size="10.5" text-anchor="start" fill="#000" stroke="#000" stroke-width="0.22" >T=25<tspan font-size="0.78em" dy="-1.3">°</tspan><tspan dy="1.3">C</tspan></text>
<text x="192.2" y="267.5" font-size="10.5" text-anchor="start" fill="#000" stroke="#000" stroke-width="0.22" >RH=40%</text>
<text x="235.5" y="281.5" font-size="10.5" text-anchor="end" fill="#000" stroke="#000" stroke-width="0.22" >Gas concentration:50ppm</text>
<text transform="translate(25.3,323.7) rotate(-90)" font-size="10.7" text-anchor="middle" stroke="#000" stroke-width="0.22">Response(R<tspan font-size="5.99" dy="2.6">g</tspan><tspan dy="-2.6">/R</tspan><tspan font-size="5.99" dy="2.6">a</tspan><tspan dy="-2.6">)</tspan></text>
<text transform="translate(73.2,411.5) rotate(-30)" font-size="10" text-anchor="end" stroke="#000" stroke-width="0.22">Formaldehyde</text>
<text transform="translate(111.7,411.5) rotate(-30)" font-size="10" text-anchor="end" stroke="#000" stroke-width="0.22">Ammonia</text>
<text transform="translate(150.9,411.5) rotate(-30)" font-size="10" text-anchor="end" stroke="#000" stroke-width="0.22">Ethanol</text>
<text transform="translate(189.9,411.5) rotate(-30)" font-size="10" text-anchor="end" stroke="#000" stroke-width="0.22">Acetone</text>
<text transform="translate(228.5,411.5) rotate(-30)" font-size="10" text-anchor="end" stroke="#000" stroke-width="0.22">Methanol</text>
<polyline points="309.7,392.42 310.49,392.25 311.28,394.4 312.07,393.91 312.86,394.18 313.65,394.89 314.45,395.1 315.24,396.55 316.03,396 316.82,395.47 317.61,391.58 318.4,387.79 319.19,381.97 319.98,376.14 320.77,369.68 321.56,363.66 322.35,357.77 323.14,350.54 323.94,343.98 324.73,337.59 325.52,331.95 326.31,325.48 327.1,319.71 327.89,314.98 328.68,309.72 329.47,304.96 330.26,302.73 331.05,299.86 331.84,295.69 332.64,297.65 333.43,302.71 334.22,314.14 335.01,323.23 335.8,329.43 336.59,335.05 337.38,341.68 338.17,346.69 338.96,351.11 339.75,354.62 340.54,358.21 341.33,361.93 342.13,364.78 342.92,366.98 343.71,369.4 344.5,370.78 345.29,373.33 346.08,375.75 346.87,376.68 347.66,378.39 348.45,379.18 349.24,380.32 350.03,381.49 350.83,382.22 351.62,383.23 352.41,384.3 353.2,385.09 353.99,385.44 354.78,385.94 355.57,384.18 356.36,378.31 357.15,371.6 357.94,365.19 358.73,358.95 359.53,352.36 360.32,346.28 361.11,339.06 361.9,331.76 362.69,324.6 363.48,317.68 364.27,310.55 365.06,303.03 365.85,296.2 366.64,290.05 367.43,289.11 368.22,288.25 369.02,289.65 369.81,294.46 370.6,301.19 371.39,310.75 372.18,320.15 372.97,328.7 373.76,337.98 374.55,347.92 375.34,351.89 376.13,354.8 376.92,358.05 377.72,360.65 378.51,363.64 379.3,365.58 380.09,367.36 380.88,369.18 381.67,371.34 382.46,372.84 383.25,373.85 384.04,375.13 384.83,376.38 385.62,376.76 386.41,378.66 387.21,379.22 388,379.15 388.79,380.14 389.58,381.09 390.37,382.07 391.16,382.38 391.95,378.7 392.74,374.08 393.53,368.35 394.32,361.93 395.11,354.98 395.91,348.41 396.7,341.39 397.49,334.48 398.28,329.49 399.07,323.09 399.86,317.06 400.65,311.41 401.44,305.61 402.23,300.02 403.02,294.39 403.81,289.64 404.61,284.53 405.4,290.83 406.19,297.18 406.98,306.47 407.77,315.18 408.56,323.35 409.35,330.23 410.14,337.82 410.93,343.43 411.72,346.43 412.51,349.72 413.3,352.77 414.1,356.29 414.89,358.29 415.68,360.59 416.47,362.57 417.26,363.61 418.05,365.39 418.84,366.9 419.63,367.46 420.42,368.03 421.21,369.32 422,369.75 422.8,370.01 423.59,371.04 424.38,372.38 425.17,373.59 425.96,374.98 426.75,376.27 427.54,377.31 428.33,376.41 429.12,372.77 429.91,367.53 430.7,363 431.49,355.11 432.29,348.18 433.08,340.56 433.87,332.51 434.66,326.35 435.45,320.06 436.24,313.85 437.03,307.88 437.82,301.4 438.61,294.41 439.4,291.04 440.19,287.75 440.99,283.9 441.78,279.47 442.57,276.23 443.36,275.78 444.15,282.02 444.94,288.19 445.73,294.59 446.52,301.49 447.31,308.39 448.1,314.47 448.89,318.63 449.68,323.47 450.48,328.78 451.27,333.23 452.06,337.71 452.85,341.03 453.64,344.46 454.43,347.98 455.22,350.95 456.01,354.29 456.8,355.71 457.59,358.31 458.38,361.26 459.18,362.74 459.97,364.74 460.76,366.47 461.55,365.96 462.34,367.09 463.13,367.44 463.92,369.33 464.71,369.59 465.5,370.62 466.29,371.69 467.08,370.7 467.88,362.84 468.67,356.16 469.46,348.3 470.25,340.42 471.04,332.2 471.83,324.29 472.62,317.12 473.41,310.86 474.2,304.65 474.99,298.61 475.78,292.77 476.57,286.74 477.37,281.25 478.16,275.92 478.95,273.03 479.74,269.86 480.53,268.06 481.32,265.11 482.11,273.33 482.9,283.42 483.69,291.79 484.48,301.09 485.27,309.01 486.07,317.93 486.86,323.4 487.65,327.37 488.44,332.63 489.23,336.54 490.02,339.35 490.81,341.31 491.6,343.3 492.39,345.65 493.18,347.59 493.97,349.87 494.76,351.01 495.56,352.8 496.35,354.29 497.14,356.86 497.93,357.09 498.72,358.78 499.51,360.12 500.3,360.19 501.09,360.78 501.88,361.3 502.67,362.74 503.46,362.57 504.26,363.86 505.05,363.56 505.84,364.8 506.63,364.91 507.42,365.65 508.21,366.29 509,365.92 509.79,366.37 510.58,366.54 511.37,367.15 512.16,368.02" fill="none" stroke="#F47B3A" stroke-width="1.4" stroke-linejoin="round" />
<circle cx="309.7" cy="392.42" r="1.5" fill="#F47B3A"/>
<circle cx="310.49" cy="392.25" r="1.5" fill="#F47B3A"/>
<circle cx="311.28" cy="394.4" r="1.5" fill="#F47B3A"/>
<circle cx="312.07" cy="393.91" r="1.5" fill="#F47B3A"/>
<circle cx="312.86" cy="394.18" r="1.5" fill="#F47B3A"/>
<circle cx="313.65" cy="394.89" r="1.5" fill="#F47B3A"/>
<circle cx="314.45" cy="395.1" r="1.5" fill="#F47B3A"/>
<circle cx="315.24" cy="396.55" r="1.5" fill="#F47B3A"/>
<circle cx="316.03" cy="396" r="1.5" fill="#F47B3A"/>
<circle cx="316.82" cy="395.47" r="1.5" fill="#F47B3A"/>
<circle cx="317.61" cy="391.58" r="1.5" fill="#F47B3A"/>
<circle cx="318.4" cy="387.79" r="1.5" fill="#F47B3A"/>
<circle cx="319.19" cy="381.97" r="1.5" fill="#F47B3A"/>
<circle cx="319.98" cy="376.14" r="1.5" fill="#F47B3A"/>
<circle cx="320.77" cy="369.68" r="1.5" fill="#F47B3A"/>
<circle cx="321.56" cy="363.66" r="1.5" fill="#F47B3A"/>
<circle cx="322.35" cy="357.77" r="1.5" fill="#F47B3A"/>
<circle cx="323.14" cy="350.54" r="1.5" fill="#F47B3A"/>
<circle cx="323.94" cy="343.98" r="1.5" fill="#F47B3A"/>
<circle cx="324.73" cy="337.59" r="1.5" fill="#F47B3A"/>
<circle cx="325.52" cy="331.95" r="1.5" fill="#F47B3A"/>
<circle cx="326.31" cy="325.48" r="1.5" fill="#F47B3A"/>
<circle cx="327.1" cy="319.71" r="1.5" fill="#F47B3A"/>
<circle cx="327.89" cy="314.98" r="1.5" fill="#F47B3A"/>
<circle cx="328.68" cy="309.72" r="1.5" fill="#F47B3A"/>
<circle cx="329.47" cy="304.96" r="1.5" fill="#F47B3A"/>
<circle cx="330.26" cy="302.73" r="1.5" fill="#F47B3A"/>
<circle cx="331.05" cy="299.86" r="1.5" fill="#F47B3A"/>
<circle cx="331.84" cy="295.69" r="1.5" fill="#F47B3A"/>
<circle cx="332.64" cy="297.65" r="1.5" fill="#F47B3A"/>
<circle cx="333.43" cy="302.71" r="1.5" fill="#F47B3A"/>
<circle cx="334.22" cy="314.14" r="1.5" fill="#F47B3A"/>
<circle cx="335.01" cy="323.23" r="1.5" fill="#F47B3A"/>
<circle cx="335.8" cy="329.43" r="1.5" fill="#F47B3A"/>
<circle cx="336.59" cy="335.05" r="1.5" fill="#F47B3A"/>
<circle cx="337.38" cy="341.68" r="1.5" fill="#F47B3A"/>
<circle cx="338.17" cy="346.69" r="1.5" fill="#F47B3A"/>
<circle cx="338.96" cy="351.11" r="1.5" fill="#F47B3A"/>
<circle cx="339.75" cy="354.62" r="1.5" fill="#F47B3A"/>
<circle cx="340.54" cy="358.21" r="1.5" fill="#F47B3A"/>
<circle cx="341.33" cy="361.93" r="1.5" fill="#F47B3A"/>
<circle cx="342.13" cy="364.78" r="1.5" fill="#F47B3A"/>
<circle cx="342.92" cy="366.98" r="1.5" fill="#F47B3A"/>
<circle cx="343.71" cy="369.4" r="1.5" fill="#F47B3A"/>
<circle cx="344.5" cy="370.78" r="1.5" fill="#F47B3A"/>
<circle cx="345.29" cy="373.33" r="1.5" fill="#F47B3A"/>
<circle cx="346.08" cy="375.75" r="1.5" fill="#F47B3A"/>
<circle cx="346.87" cy="376.68" r="1.5" fill="#F47B3A"/>
<circle cx="347.66" cy="378.39" r="1.5" fill="#F47B3A"/>
<circle cx="348.45" cy="379.18" r="1.5" fill="#F47B3A"/>
<circle cx="349.24" cy="380.32" r="1.5" fill="#F47B3A"/>
<circle cx="350.03" cy="381.49" r="1.5" fill="#F47B3A"/>
<circle cx="350.83" cy="382.22" r="1.5" fill="#F47B3A"/>
<circle cx="351.62" cy="383.23" r="1.5" fill="#F47B3A"/>
<circle cx="352.41" cy="384.3" r="1.5" fill="#F47B3A"/>
<circle cx="353.2" cy="385.09" r="1.5" fill="#F47B3A"/>
<circle cx="353.99" cy="385.44" r="1.5" fill="#F47B3A"/>
<circle cx="354.78" cy="385.94" r="1.5" fill="#F47B3A"/>
<circle cx="355.57" cy="384.18" r="1.5" fill="#F47B3A"/>
<circle cx="356.36" cy="378.31" r="1.5" fill="#F47B3A"/>
<circle cx="357.15" cy="371.6" r="1.5" fill="#F47B3A"/>
<circle cx="357.94" cy="365.19" r="1.5" fill="#F47B3A"/>
<circle cx="358.73" cy="358.95" r="1.5" fill="#F47B3A"/>
<circle cx="359.53" cy="352.36" r="1.5" fill="#F47B3A"/>
<circle cx="360.32" cy="346.28" r="1.5" fill="#F47B3A"/>
<circle cx="361.11" cy="339.06" r="1.5" fill="#F47B3A"/>
<circle cx="361.9" cy="331.76" r="1.5" fill="#F47B3A"/>
<circle cx="362.69" cy="324.6" r="1.5" fill="#F47B3A"/>
<circle cx="363.48" cy="317.68" r="1.5" fill="#F47B3A"/>
<circle cx="364.27" cy="310.55" r="1.5" fill="#F47B3A"/>
<circle cx="365.06" cy="303.03" r="1.5" fill="#F47B3A"/>
<circle cx="365.85" cy="296.2" r="1.5" fill="#F47B3A"/>
<circle cx="366.64" cy="290.05" r="1.5" fill="#F47B3A"/>
<circle cx="367.43" cy="289.11" r="1.5" fill="#F47B3A"/>
<circle cx="368.22" cy="288.25" r="1.5" fill="#F47B3A"/>
<circle cx="369.02" cy="289.65" r="1.5" fill="#F47B3A"/>
<circle cx="369.81" cy="294.46" r="1.5" fill="#F47B3A"/>
<circle cx="370.6" cy="301.19" r="1.5" fill="#F47B3A"/>
<circle cx="371.39" cy="310.75" r="1.5" fill="#F47B3A"/>
<circle cx="372.18" cy="320.15" r="1.5" fill="#F47B3A"/>
<circle cx="372.97" cy="328.7" r="1.5" fill="#F47B3A"/>
<circle cx="373.76" cy="337.98" r="1.5" fill="#F47B3A"/>
<circle cx="374.55" cy="347.92" r="1.5" fill="#F47B3A"/>
<circle cx="375.34" cy="351.89" r="1.5" fill="#F47B3A"/>
<circle cx="376.13" cy="354.8" r="1.5" fill="#F47B3A"/>
<circle cx="376.92" cy="358.05" r="1.5" fill="#F47B3A"/>
<circle cx="377.72" cy="360.65" r="1.5" fill="#F47B3A"/>
<circle cx="378.51" cy="363.64" r="1.5" fill="#F47B3A"/>
<circle cx="379.3" cy="365.58" r="1.5" fill="#F47B3A"/>
<circle cx="380.09" cy="367.36" r="1.5" fill="#F47B3A"/>
<circle cx="380.88" cy="369.18" r="1.5" fill="#F47B3A"/>
<circle cx="381.67" cy="371.34" r="1.5" fill="#F47B3A"/>
<circle cx="382.46" cy="372.84" r="1.5" fill="#F47B3A"/>
<circle cx="383.25" cy="373.85" r="1.5" fill="#F47B3A"/>
<circle cx="384.04" cy="375.13" r="1.5" fill="#F47B3A"/>
<circle cx="384.83" cy="376.38" r="1.5" fill="#F47B3A"/>
<circle cx="385.62" cy="376.76" r="1.5" fill="#F47B3A"/>
<circle cx="386.41" cy="378.66" r="1.5" fill="#F47B3A"/>
<circle cx="387.21" cy="379.22" r="1.5" fill="#F47B3A"/>
<circle cx="388" cy="379.15" r="1.5" fill="#F47B3A"/>
<circle cx="388.79" cy="380.14" r="1.5" fill="#F47B3A"/>
<circle cx="389.58" cy="381.09" r="1.5" fill="#F47B3A"/>
<circle cx="390.37" cy="382.07" r="1.5" fill="#F47B3A"/>
<circle cx="391.16" cy="382.38" r="1.5" fill="#F47B3A"/>
<circle cx="391.95" cy="378.7" r="1.5" fill="#F47B3A"/>
<circle cx="392.74" cy="374.08" r="1.5" fill="#F47B3A"/>
<circle cx="393.53" cy="368.35" r="1.5" fill="#F47B3A"/>
<circle cx="394.32" cy="361.93" r="1.5" fill="#F47B3A"/>
<circle cx="395.11" cy="354.98" r="1.5" fill="#F47B3A"/>
<circle cx="395.91" cy="348.41" r="1.5" fill="#F47B3A"/>
<circle cx="396.7" cy="341.39" r="1.5" fill="#F47B3A"/>
<circle cx="397.49" cy="334.48" r="1.5" fill="#F47B3A"/>
<circle cx="398.28" cy="329.49" r="1.5" fill="#F47B3A"/>
<circle cx="399.07" cy="323.09" r="1.5" fill="#F47B3A"/>
<circle cx="399.86" cy="317.06" r="1.5" fill="#F47B3A"/>
<circle cx="400.65" cy="311.41" r="1.5" fill="#F47B3A"/>
<circle cx="401.44" cy="305.61" r="1.5" fill="#F47B3A"/>
<circle cx="402.23" cy="300.02" r="1.5" fill="#F47B3A"/>
<circle cx="403.02" cy="294.39" r="1.5" fill="#F47B3A"/>
<circle cx="403.81" cy="289.64" r="1.5" fill="#F47B3A"/>
<circle cx="404.61" cy="284.53" r="1.5" fill="#F47B3A"/>
<circle cx="405.4" cy="290.83" r="1.5" fill="#F47B3A"/>
<circle cx="406.19" cy="297.18" r="1.5" fill="#F47B3A"/>
<circle cx="406.98" cy="306.47" r="1.5" fill="#F47B3A"/>
<circle cx="407.77" cy="315.18" r="1.5" fill="#F47B3A"/>
<circle cx="408.56" cy="323.35" r="1.5" fill="#F47B3A"/>
<circle cx="409.35" cy="330.23" r="1.5" fill="#F47B3A"/>
<circle cx="410.14" cy="337.82" r="1.5" fill="#F47B3A"/>
<circle cx="410.93" cy="343.43" r="1.5" fill="#F47B3A"/>
<circle cx="411.72" cy="346.43" r="1.5" fill="#F47B3A"/>
<circle cx="412.51" cy="349.72" r="1.5" fill="#F47B3A"/>
<circle cx="413.3" cy="352.77" r="1.5" fill="#F47B3A"/>
<circle cx="414.1" cy="356.29" r="1.5" fill="#F47B3A"/>
<circle cx="414.89" cy="358.29" r="1.5" fill="#F47B3A"/>
<circle cx="415.68" cy="360.59" r="1.5" fill="#F47B3A"/>
<circle cx="416.47" cy="362.57" r="1.5" fill="#F47B3A"/>
<circle cx="417.26" cy="363.61" r="1.5" fill="#F47B3A"/>
<circle cx="418.05" cy="365.39" r="1.5" fill="#F47B3A"/>
<circle cx="418.84" cy="366.9" r="1.5" fill="#F47B3A"/>
<circle cx="419.63" cy="367.46" r="1.5" fill="#F47B3A"/>
<circle cx="420.42" cy="368.03" r="1.5" fill="#F47B3A"/>
<circle cx="421.21" cy="369.32" r="1.5" fill="#F47B3A"/>
<circle cx="422" cy="369.75" r="1.5" fill="#F47B3A"/>
<circle cx="422.8" cy="370.01" r="1.5" fill="#F47B3A"/>
<circle cx="423.59" cy="371.04" r="1.5" fill="#F47B3A"/>
<circle cx="424.38" cy="372.38" r="1.5" fill="#F47B3A"/>
<circle cx="425.17" cy="373.59" r="1.5" fill="#F47B3A"/>
<circle cx="425.96" cy="374.98" r="1.5" fill="#F47B3A"/>
<circle cx="426.75" cy="376.27" r="1.5" fill="#F47B3A"/>
<circle cx="427.54" cy="377.31" r="1.5" fill="#F47B3A"/>
<circle cx="428.33" cy="376.41" r="1.5" fill="#F47B3A"/>
<circle cx="429.12" cy="372.77" r="1.5" fill="#F47B3A"/>
<circle cx="429.91" cy="367.53" r="1.5" fill="#F47B3A"/>
<circle cx="430.7" cy="363" r="1.5" fill="#F47B3A"/>
<circle cx="431.49" cy="355.11" r="1.5" fill="#F47B3A"/>
<circle cx="432.29" cy="348.18" r="1.5" fill="#F47B3A"/>
<circle cx="433.08" cy="340.56" r="1.5" fill="#F47B3A"/>
<circle cx="433.87" cy="332.51" r="1.5" fill="#F47B3A"/>
<circle cx="434.66" cy="326.35" r="1.5" fill="#F47B3A"/>
<circle cx="435.45" cy="320.06" r="1.5" fill="#F47B3A"/>
<circle cx="436.24" cy="313.85" r="1.5" fill="#F47B3A"/>
<circle cx="437.03" cy="307.88" r="1.5" fill="#F47B3A"/>
<circle cx="437.82" cy="301.4" r="1.5" fill="#F47B3A"/>
<circle cx="438.61" cy="294.41" r="1.5" fill="#F47B3A"/>
<circle cx="439.4" cy="291.04" r="1.5" fill="#F47B3A"/>
<circle cx="440.19" cy="287.75" r="1.5" fill="#F47B3A"/>
<circle cx="440.99" cy="283.9" r="1.5" fill="#F47B3A"/>
<circle cx="441.78" cy="279.47" r="1.5" fill="#F47B3A"/>
<circle cx="442.57" cy="276.23" r="1.5" fill="#F47B3A"/>
<circle cx="443.36" cy="275.78" r="1.5" fill="#F47B3A"/>
<circle cx="444.15" cy="282.02" r="1.5" fill="#F47B3A"/>
<circle cx="444.94" cy="288.19" r="1.5" fill="#F47B3A"/>
<circle cx="445.73" cy="294.59" r="1.5" fill="#F47B3A"/>
<circle cx="446.52" cy="301.49" r="1.5" fill="#F47B3A"/>
<circle cx="447.31" cy="308.39" r="1.5" fill="#F47B3A"/>
<circle cx="448.1" cy="314.47" r="1.5" fill="#F47B3A"/>
<circle cx="448.89" cy="318.63" r="1.5" fill="#F47B3A"/>
<circle cx="449.68" cy="323.47" r="1.5" fill="#F47B3A"/>
<circle cx="450.48" cy="328.78" r="1.5" fill="#F47B3A"/>
<circle cx="451.27" cy="333.23" r="1.5" fill="#F47B3A"/>
<circle cx="452.06" cy="337.71" r="1.5" fill="#F47B3A"/>
<circle cx="452.85" cy="341.03" r="1.5" fill="#F47B3A"/>
<circle cx="453.64" cy="344.46" r="1.5" fill="#F47B3A"/>
<circle cx="454.43" cy="347.98" r="1.5" fill="#F47B3A"/>
<circle cx="455.22" cy="350.95" r="1.5" fill="#F47B3A"/>
<circle cx="456.01" cy="354.29" r="1.5" fill="#F47B3A"/>
<circle cx="456.8" cy="355.71" r="1.5" fill="#F47B3A"/>
<circle cx="457.59" cy="358.31" r="1.5" fill="#F47B3A"/>
<circle cx="458.38" cy="361.26" r="1.5" fill="#F47B3A"/>
<circle cx="459.18" cy="362.74" r="1.5" fill="#F47B3A"/>
<circle cx="459.97" cy="364.74" r="1.5" fill="#F47B3A"/>
<circle cx="460.76" cy="366.47" r="1.5" fill="#F47B3A"/>
<circle cx="461.55" cy="365.96" r="1.5" fill="#F47B3A"/>
<circle cx="462.34" cy="367.09" r="1.5" fill="#F47B3A"/>
<circle cx="463.13" cy="367.44" r="1.5" fill="#F47B3A"/>
<circle cx="463.92" cy="369.33" r="1.5" fill="#F47B3A"/>
<circle cx="464.71" cy="369.59" r="1.5" fill="#F47B3A"/>
<circle cx="465.5" cy="370.62" r="1.5" fill="#F47B3A"/>
<circle cx="466.29" cy="371.69" r="1.5" fill="#F47B3A"/>
<circle cx="467.08" cy="370.7" r="1.5" fill="#F47B3A"/>
<circle cx="467.88" cy="362.84" r="1.5" fill="#F47B3A"/>
<circle cx="468.67" cy="356.16" r="1.5" fill="#F47B3A"/>
<circle cx="469.46" cy="348.3" r="1.5" fill="#F47B3A"/>
<circle cx="470.25" cy="340.42" r="1.5" fill="#F47B3A"/>
<circle cx="471.04" cy="332.2" r="1.5" fill="#F47B3A"/>
<circle cx="471.83" cy="324.29" r="1.5" fill="#F47B3A"/>
<circle cx="472.62" cy="317.12" r="1.5" fill="#F47B3A"/>
<circle cx="473.41" cy="310.86" r="1.5" fill="#F47B3A"/>
<circle cx="474.2" cy="304.65" r="1.5" fill="#F47B3A"/>
<circle cx="474.99" cy="298.61" r="1.5" fill="#F47B3A"/>
<circle cx="475.78" cy="292.77" r="1.5" fill="#F47B3A"/>
<circle cx="476.57" cy="286.74" r="1.5" fill="#F47B3A"/>
<circle cx="477.37" cy="281.25" r="1.5" fill="#F47B3A"/>
<circle cx="478.16" cy="275.92" r="1.5" fill="#F47B3A"/>
<circle cx="478.95" cy="273.03" r="1.5" fill="#F47B3A"/>
<circle cx="479.74" cy="269.86" r="1.5" fill="#F47B3A"/>
<circle cx="480.53" cy="268.06" r="1.5" fill="#F47B3A"/>
<circle cx="481.32" cy="265.11" r="1.5" fill="#F47B3A"/>
<circle cx="482.11" cy="273.33" r="1.5" fill="#F47B3A"/>
<circle cx="482.9" cy="283.42" r="1.5" fill="#F47B3A"/>
<circle cx="483.69" cy="291.79" r="1.5" fill="#F47B3A"/>
<circle cx="484.48" cy="301.09" r="1.5" fill="#F47B3A"/>
<circle cx="485.27" cy="309.01" r="1.5" fill="#F47B3A"/>
<circle cx="486.07" cy="317.93" r="1.5" fill="#F47B3A"/>
<circle cx="486.86" cy="323.4" r="1.5" fill="#F47B3A"/>
<circle cx="487.65" cy="327.37" r="1.5" fill="#F47B3A"/>
<circle cx="488.44" cy="332.63" r="1.5" fill="#F47B3A"/>
<circle cx="489.23" cy="336.54" r="1.5" fill="#F47B3A"/>
<circle cx="490.02" cy="339.35" r="1.5" fill="#F47B3A"/>
<circle cx="490.81" cy="341.31" r="1.5" fill="#F47B3A"/>
<circle cx="491.6" cy="343.3" r="1.5" fill="#F47B3A"/>
<circle cx="492.39" cy="345.65" r="1.5" fill="#F47B3A"/>
<circle cx="493.18" cy="347.59" r="1.5" fill="#F47B3A"/>
<circle cx="493.97" cy="349.87" r="1.5" fill="#F47B3A"/>
<circle cx="494.76" cy="351.01" r="1.5" fill="#F47B3A"/>
<circle cx="495.56" cy="352.8" r="1.5" fill="#F47B3A"/>
<circle cx="496.35" cy="354.29" r="1.5" fill="#F47B3A"/>
<circle cx="497.14" cy="356.86" r="1.5" fill="#F47B3A"/>
<circle cx="497.93" cy="357.09" r="1.5" fill="#F47B3A"/>
<circle cx="498.72" cy="358.78" r="1.5" fill="#F47B3A"/>
<circle cx="499.51" cy="360.12" r="1.5" fill="#F47B3A"/>
<circle cx="500.3" cy="360.19" r="1.5" fill="#F47B3A"/>
<circle cx="501.09" cy="360.78" r="1.5" fill="#F47B3A"/>
<circle cx="501.88" cy="361.3" r="1.5" fill="#F47B3A"/>
<circle cx="502.67" cy="362.74" r="1.5" fill="#F47B3A"/>
<circle cx="503.46" cy="362.57" r="1.5" fill="#F47B3A"/>
<circle cx="504.26" cy="363.86" r="1.5" fill="#F47B3A"/>
<circle cx="505.05" cy="363.56" r="1.5" fill="#F47B3A"/>
<circle cx="505.84" cy="364.8" r="1.5" fill="#F47B3A"/>
<circle cx="506.63" cy="364.91" r="1.5" fill="#F47B3A"/>
<circle cx="507.42" cy="365.65" r="1.5" fill="#F47B3A"/>
<circle cx="508.21" cy="366.29" r="1.5" fill="#F47B3A"/>
<circle cx="509" cy="365.92" r="1.5" fill="#F47B3A"/>
<circle cx="509.79" cy="366.37" r="1.5" fill="#F47B3A"/>
<circle cx="510.58" cy="366.54" r="1.5" fill="#F47B3A"/>
<circle cx="511.37" cy="367.15" r="1.5" fill="#F47B3A"/>
<circle cx="512.16" cy="368.02" r="1.5" fill="#F47B3A"/>
<rect x="309.7" y="244.0" width="210.9" height="170" fill="none" stroke="#333" stroke-width="1.1"/>
<line x1="309.7" y1="414" x2="309.7" y2="416.6" stroke="#333" stroke-width="1" />
<text x="309.7" y="427.7" font-size="10.5" text-anchor="middle" fill="#000" stroke="#000" stroke-width="0.22" >0</text>
<line x1="336.06" y1="414" x2="336.06" y2="415.6" stroke="#333" stroke-width="1" />
<line x1="362.43" y1="414" x2="362.43" y2="416.6" stroke="#333" stroke-width="1" />
<text x="362.43" y="427.7" font-size="10.5" text-anchor="middle" fill="#000" stroke="#000" stroke-width="0.22" >2000</text>
<line x1="388.79" y1="414" x2="388.79" y2="415.6" stroke="#333" stroke-width="1" />
<line x1="415.15" y1="414" x2="415.15" y2="416.6" stroke="#333" stroke-width="1" />
<text x="415.15" y="427.7" font-size="10.5" text-anchor="middle" fill="#000" stroke="#000" stroke-width="0.22" >4000</text>
<line x1="441.51" y1="414" x2="441.51" y2="415.6" stroke="#333" stroke-width="1" />
<line x1="467.88" y1="414" x2="467.88" y2="416.6" stroke="#333" stroke-width="1" />
<text x="467.88" y="427.7" font-size="10.5" text-anchor="middle" fill="#000" stroke="#000" stroke-width="0.22" >6000</text>
<line x1="494.24" y1="414" x2="494.24" y2="415.6" stroke="#333" stroke-width="1" />
<line x1="520.6" y1="414" x2="520.6" y2="416.6" stroke="#333" stroke-width="1" />
<text x="520.6" y="427.7" font-size="10.5" text-anchor="middle" fill="#000" stroke="#000" stroke-width="0.22" >8000</text>
<line x1="307.1" y1="414" x2="309.7" y2="414" stroke="#333" stroke-width="1" />
<text x="304.6" y="417.7" font-size="10.5" text-anchor="end" fill="#000" stroke="#000" stroke-width="0.22" >0.8</text>
<line x1="308.1" y1="397" x2="309.7" y2="397" stroke="#333" stroke-width="1" />
<line x1="307.1" y1="380" x2="309.7" y2="380" stroke="#333" stroke-width="1" />
<text x="304.6" y="383.7" font-size="10.5" text-anchor="end" fill="#000" stroke="#000" stroke-width="0.22" >1.2</text>
<line x1="308.1" y1="363" x2="309.7" y2="363" stroke="#333" stroke-width="1" />
<line x1="307.1" y1="346" x2="309.7" y2="346" stroke="#333" stroke-width="1" />
<text x="304.6" y="349.7" font-size="10.5" text-anchor="end" fill="#000" stroke="#000" stroke-width="0.22" >1.6</text>
<line x1="308.1" y1="329" x2="309.7" y2="329" stroke="#333" stroke-width="1" />
<line x1="307.1" y1="312" x2="309.7" y2="312" stroke="#333" stroke-width="1" />
<text x="304.6" y="315.7" font-size="10.5" text-anchor="end" fill="#000" stroke="#000" stroke-width="0.22" >2.0</text>
<line x1="308.1" y1="295" x2="309.7" y2="295" stroke="#333" stroke-width="1" />
<line x1="307.1" y1="278" x2="309.7" y2="278" stroke="#333" stroke-width="1" />
<text x="304.6" y="281.7" font-size="10.5" text-anchor="end" fill="#000" stroke="#000" stroke-width="0.22" >2.4</text>
<line x1="308.1" y1="261" x2="309.7" y2="261" stroke="#333" stroke-width="1" />
<line x1="307.1" y1="244" x2="309.7" y2="244" stroke="#333" stroke-width="1" />
<text x="304.6" y="247.7" font-size="10.5" text-anchor="end" fill="#000" stroke="#000" stroke-width="0.22" >2.8</text>
<text x="415.5" y="445.1" font-size="10.9" text-anchor="middle" fill="#000" stroke="#000" stroke-width="0.22" >Time(s)</text>
<text transform="translate(278.8,320.4) rotate(-90)" font-size="11.5" text-anchor="middle" stroke="#000" stroke-width="0.22">Response(R<tspan font-size="6.44" dy="2.6">g</tspan><tspan dy="-2.6">/R</tspan><tspan font-size="6.44" dy="2.6">a</tspan><tspan dy="-2.6">)</tspan></text>
<text x="267.6" y="242" font-size="16.5" text-anchor="start" fill="#000" stroke="#000" stroke-width="0.22" >(d)</text>
<text x="314" y="254.8" font-size="10.5" text-anchor="start" fill="#000" stroke="#000" stroke-width="0.22" >T=25<tspan font-size="0.78em" dy="-1.3">°</tspan><tspan dy="1.3">C</tspan></text>
<text x="314" y="268" font-size="10.5" text-anchor="start" fill="#000" stroke="#000" stroke-width="0.22" >RH=40%</text>
<text x="314" y="280.7" font-size="10.5" text-anchor="start" fill="#000" stroke="#000" stroke-width="0.22" >target gas:10ppm HCHO</text>
</svg>
</body></html>
